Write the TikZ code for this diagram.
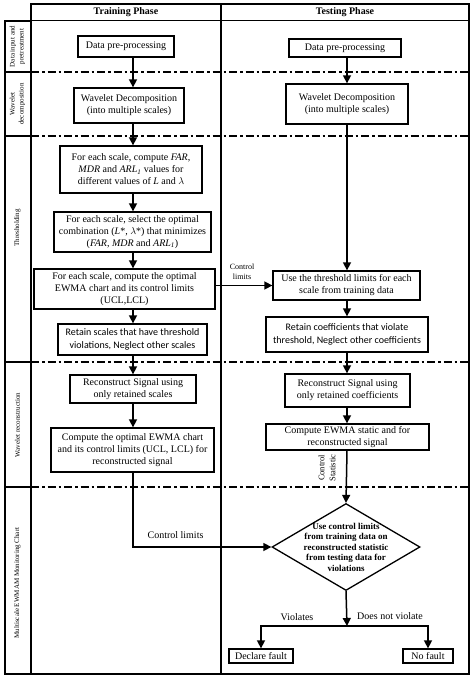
\documentclass[tikz,border=0pt]{standalone}
\usepackage{fontspec}
\setmainfont{Liberation Serif}
\newfontfamily\calfont{Carlito}
\usetikzlibrary{shapes.geometric,arrows.meta}
\begin{document}
\begin{tikzpicture}[x=1pt,y=-1pt,
 box/.style={draw,line width=1.3pt,inner sep=0pt,align=center,font=\fontsize{10}{12}\selectfont},
 cbox/.style={box,font=\calfont\fontsize{10}{12.5}\selectfont},
 arr/.style={line width=1.5pt,-{Triangle[length=8pt,width=8pt]}},
 ln/.style={line width=1.5pt},
 frame/.style={line width=1.4pt},
 dd/.style={line width=1.5pt,dash pattern=on 8pt off 3pt on 2.5pt off 3pt},
 lab/.style={font=\fontsize{7}{9}\selectfont,align=center,rotate=90},
 txt/.style={font=\fontsize{10}{12}\selectfont,align=center,inner sep=0pt},
 small/.style={font=\fontsize{8}{10}\selectfont,align=center,inner sep=0pt},
 ]
\useasboundingbox (0,0) rectangle (474,679);
% frame
\draw[frame] (31,4) rectangle (469,674);
\draw[frame] (5,21) rectangle (31,674);
\draw[frame] (31,20.5) -- (469,20.5);
\draw[frame] (221,4) -- (221,674);
\foreach \yy in {72,136,362,487}{
  \draw[frame] (5,\yy) -- (31,\yy);
  \draw[dd] (31,\yy) -- (469,\yy);
}
% headers
\node[txt,font=\bfseries\fontsize{10}{12}\selectfont] (hA) at (126,12.5) {Training Phase};
\node[txt,font=\bfseries\fontsize{10}{12}\selectfont] (hB) at (345,12.5) {Testing Phase};
% left labels
\node[lab] (l1) at (17.5,46.5) {Data input and\\pretreatment};
\node[lab] (l2) at (17.5,104) {Wavelet\\decomposition};
\node[lab] (l3) at (17.5,228) {Thresholding};
\node[lab] (l4) at (17.5,425) {Wavelet reconstruction};
\node[lab] (l5) at (17.5,583) {Multiscale EWMAM Monitoring Chart};
% training column
\coordinate (tx) at (133,0);
\node[box,minimum width=96pt,minimum height=21pt] (tdp) at (126,46.5) {Data pre-processing};
\node[box,minimum width=110pt,minimum height=35pt] (twd) at (129,105.5) {Wavelet Decomposition\\(into multiple scales)};
\node[box,minimum width=142pt,minimum height=47pt] (tfar) at (131,169.5) {For each scale, compute \textit{FAR},\\\textit{MDR} and \textit{ARL\textsubscript{1}} values for\\different values of \textit{L} and $\lambda$};
\node[box,minimum width=157pt,minimum height=40pt] (tsel) at (132.5,232) {For each scale, select the optimal\\combination (\textit{L}*, $\lambda$*) that minimizes\\(\textit{FAR}, \textit{MDR} and \textit{ARL\textsubscript{1}})};
\node[box,minimum width=181pt,minimum height=40pt] (tewma) at (124.5,289) {For each scale, compute the optimal\\EWMA chart and its control limits\\(UCL,LCL)};
\node[cbox,minimum width=149pt,minimum height=31pt] (tret) at (132.5,339.5) {Retain scales that have threshold\\violations, Neglect other scales};
\node[box,minimum width=126pt,minimum height=28pt] (trec) at (133,389) {Reconstruct Signal using\\only retained scales};
\node[box,minimum width=163pt,minimum height=44pt] (tcomp) at (132.5,450) {Compute the optimal EWMA chart\\and its control limits (UCL, LCL) for\\reconstructed signal};
% testing column
\coordinate (sx) at (347,0);
\node[box,minimum width=112pt,minimum height=18pt] (sdp) at (345,48) {Data pre-processing};
\node[box,minimum width=122pt,minimum height=40pt] (swd) at (347,104) {Wavelet Decomposition\\(into multiple scales)};
\node[box,minimum width=147pt,minimum height=29pt] (suse) at (346.5,285.5) {Use the threshold limits for each\\scale from training data};
\node[cbox,minimum width=162pt,minimum height=35pt] (sret) at (347,334.5) {Retain coefficients that violate\\threshold, Neglect other coefficients};
\node[box,minimum width=125pt,minimum height=33pt] (srec) at (347.5,390.5) {Reconstruct Signal using\\only retained coefficients};
\node[box,minimum width=163pt,minimum height=26pt] (scomp) at (347.5,437) {Compute EWMA static and for\\reconstructed signal};
\node[draw,diamond,line width=1.3pt,inner sep=0pt,minimum width=148pt,minimum height=87pt] (dia) at (346,547) {};
\node[font=\bfseries\fontsize{9}{10.5}\selectfont,align=center,inner sep=0pt] (diat) at (dia.center) {Use control limits\\from training data on\\reconstructed statistic\\from testing data for\\violations};
\node[box,minimum width=64pt,minimum height=14pt] (decl) at (261,656) {Declare fault};
\node[box,minimum width=50pt,minimum height=14pt] (nof) at (428,656) {No fault};
% training arrows
\draw[arr] (tdp.south -| tx) -- (twd.north -| tx);
\draw[arr] (twd.south -| tx) -- (tfar.north -| tx);
\draw[arr] (tfar.south -| tx) -- (tsel.north -| tx);
\draw[arr] (tsel.south -| tx) -- (tewma.north -| tx);
\draw[arr] (tewma.south -| tx) -- (tret.north -| tx);
\draw[arr] (tret.south -| tx) -- (trec.north -| tx);
\draw[arr] (trec.south -| tx) -- (tcomp.north -| tx);
\draw[arr] (tewma.east |- suse.west) -- (suse.west);
\node[small] (cl1) at (242,272) {Control\\limits};
\draw[arr] (tcomp.south -| tx) |- (dia.west);
\node[txt] (cl2) at (175.5,535) {Control limits};
% testing arrows
\draw[arr] (sdp.south -| sx) -- (swd.north -| sx);
\draw[arr] (swd.south -| sx) -- (suse.north -| sx);
\draw[arr] (suse.south -| sx) -- (sret.north -| sx);
\draw[arr] (sret.south -| sx) -- (srec.north -| sx);
\draw[arr] (srec.south -| sx) -- (scomp.north -| sx);
\draw[arr] (scomp.south -| sx) -- (dia.north);
\node[font=\fontsize{8.5}{11}\selectfont,align=center,inner sep=0pt,rotate=90] (cs) at (327,468) {Control\\Statistic};
\coordinate (split) at (347,626);
\draw[arr] (dia.south) -- (split);
\draw[arr] (split) -| (decl.north);
\draw[arr] (split) -| (nof.north);
\node[txt] (vio) at (297,617) {Violates};
\node[txt] (nvio) at (390,616) {Does not violate};
\end{tikzpicture}
\end{document}
